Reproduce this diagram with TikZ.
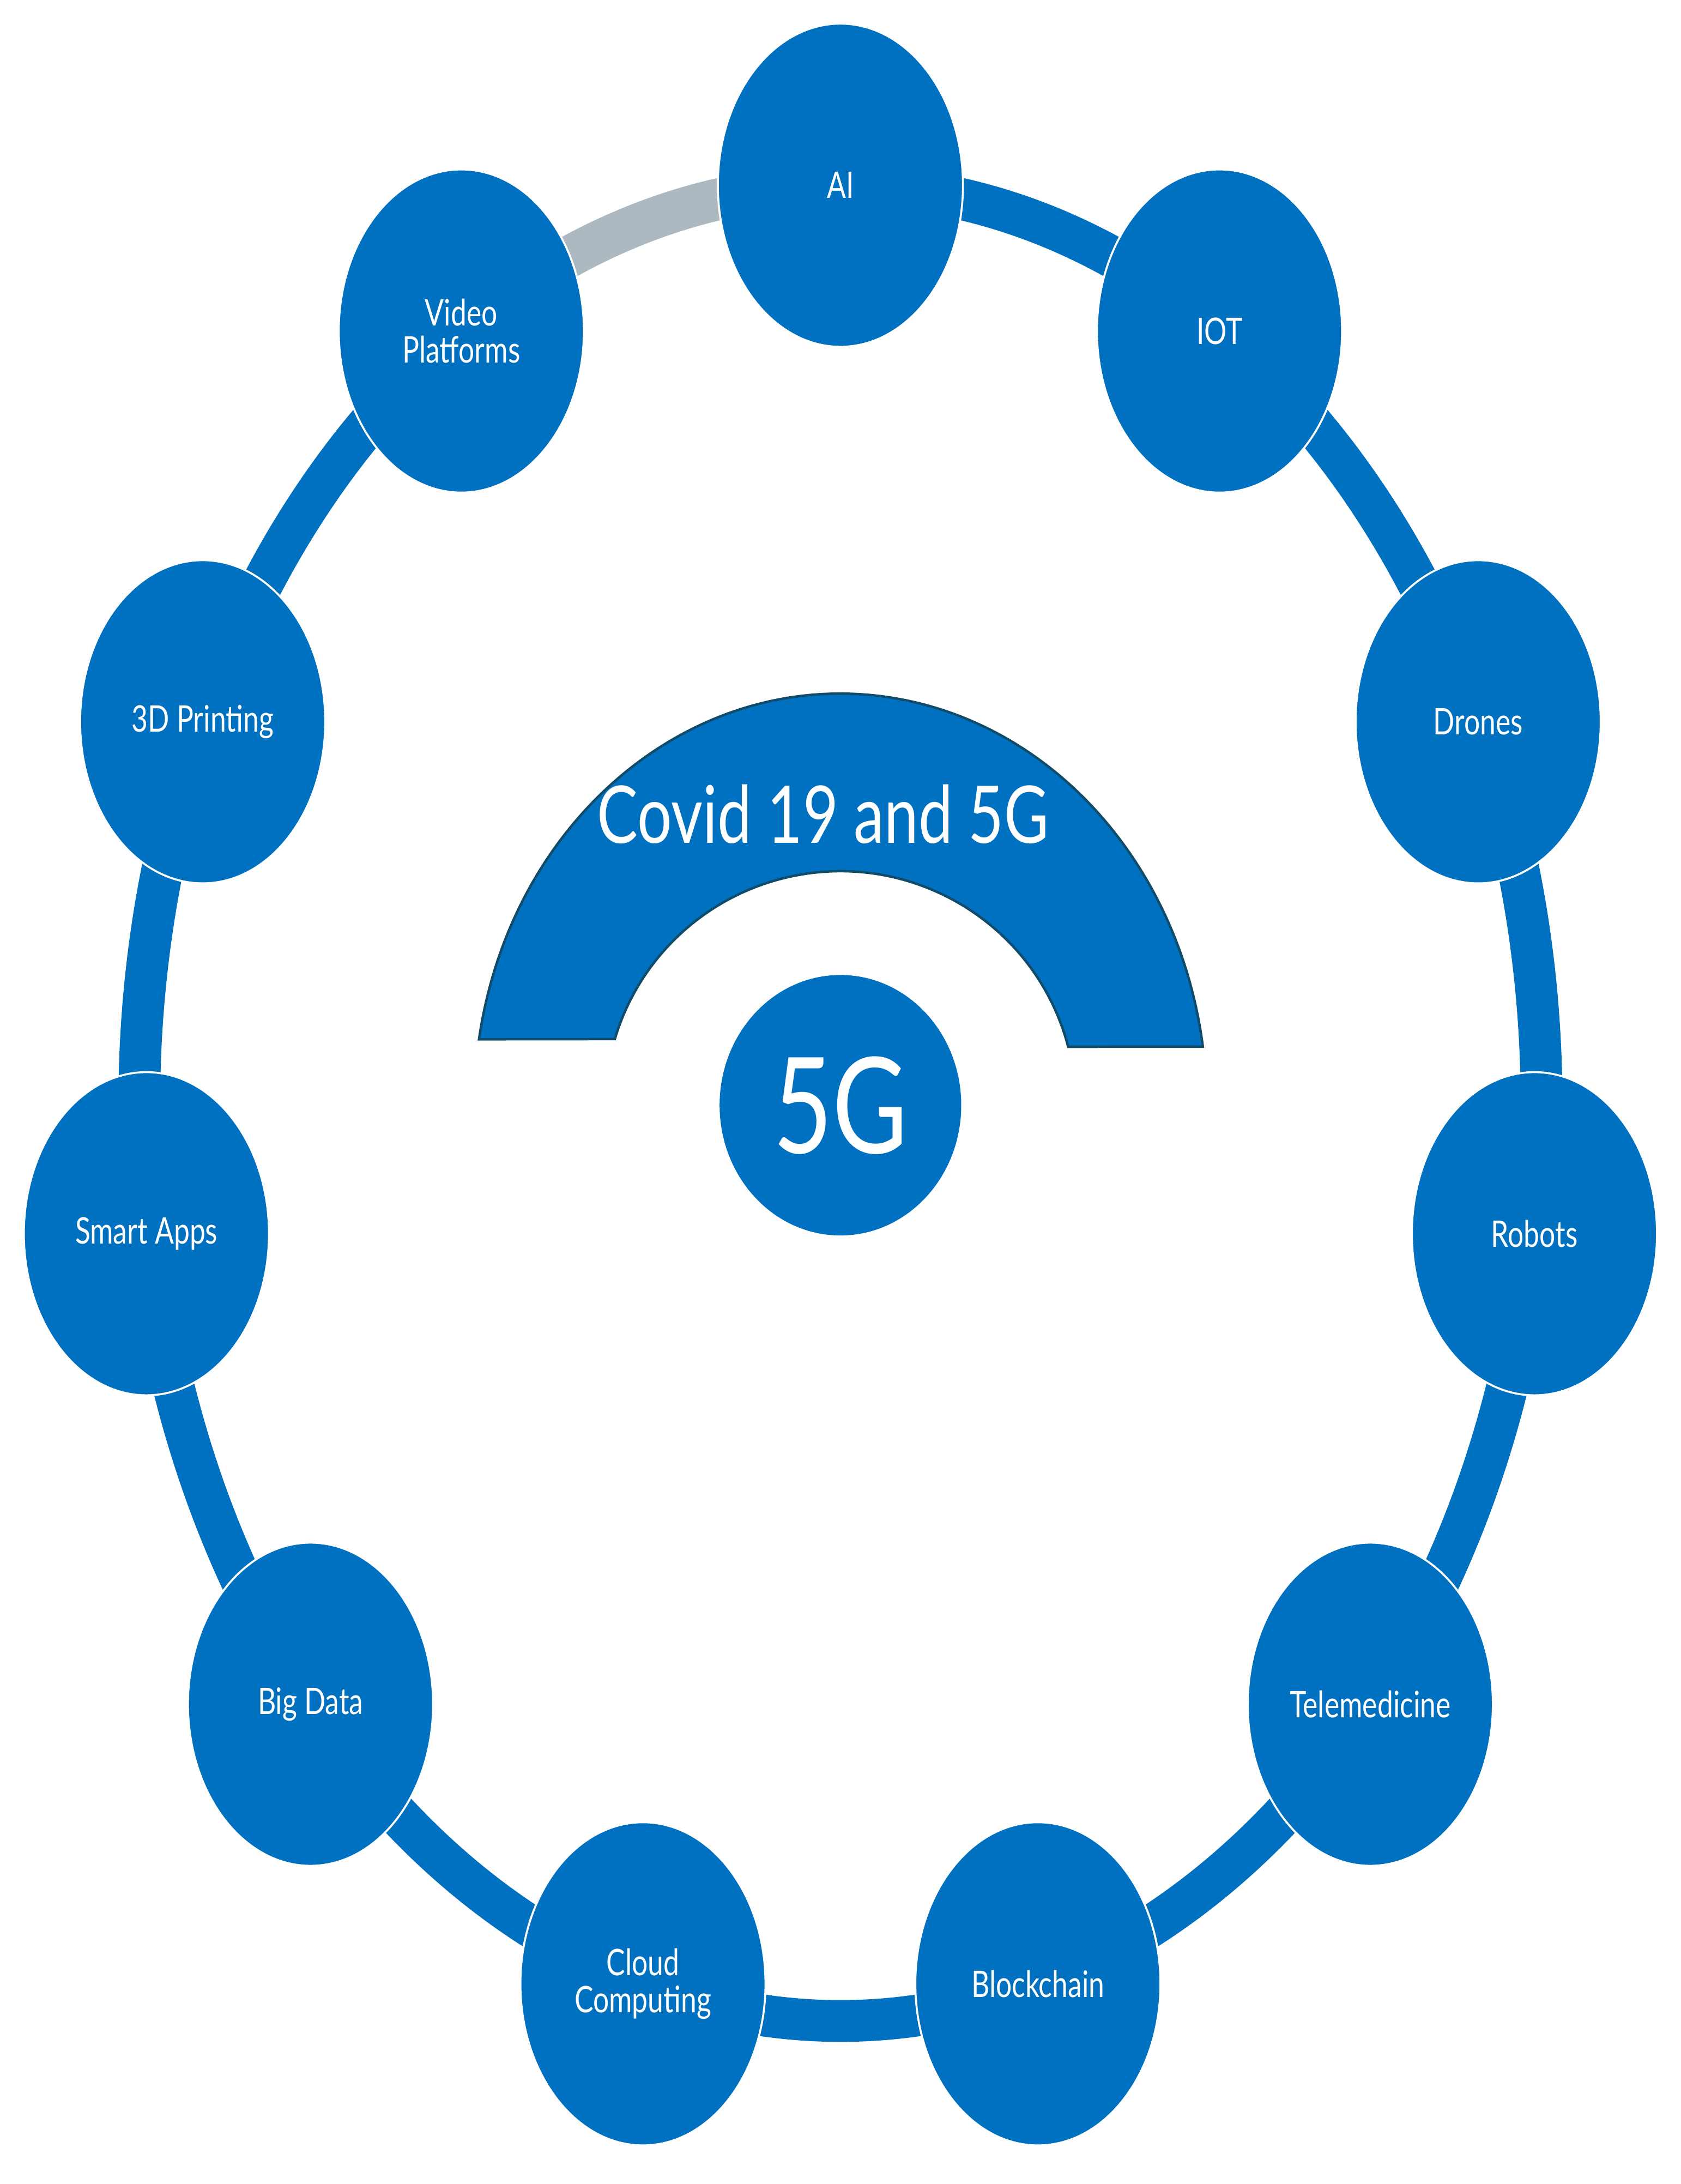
\documentclass[tikz,border=0pt]{standalone}
\usepackage{fontspec}
\setmainfont{Lato}
\usetikzlibrary{shapes.geometric,backgrounds}
\definecolor{fgblue}{RGB}{0,112,192}
\definecolor{ringgray}{RGB}{173,185,192}
\definecolor{arcedge}{RGB}{16,76,106}
\newcommand{\tallt}[1]{\scalebox{1}[1.3]{#1}}

\begin{document}
\begin{tikzpicture}[
    item/.style={draw=white, line width=0.8pt, fill=fgblue, ellipse, minimum width=3.52cm, minimum height=4.64cm,
                 inner sep=1pt, text=white, align=center, font=\fontsize{11.5}{15}\selectfont},
    link/.style={draw=fgblue, line width=0.6cm},
  ]
  \useasboundingbox (-12.07,-15.52) rectangle (12.07,15.84);

  \node[item] (ai)     at (90:10.07 and 13.18)      {\tallt{AI}};
  \node[item] (iot)    at (57.27:10.07 and 13.18)   {\tallt{IOT}};
  \node[item] (drones) at (24.55:10.07 and 13.18)   {\tallt{Drones}};
  \node[item] (robots) at (-8.18:10.07 and 13.18)   {\tallt{Robots}};
  \node[item] (tele)   at (-40.91:10.07 and 13.18)  {\tallt{Telemedicine}};
  \node[item] (block)  at (-73.64:10.07 and 13.18)  {\tallt{Blockchain}};
  \node[item] (cloud)  at (-106.36:10.07 and 13.18) {\tallt{Cloud}\\\tallt{Computing}};
  \node[item] (bigdata) at (-139.09:10.07 and 13.18) {\tallt{Big Data}};
  \node[item] (smart)  at (-171.82:10.07 and 13.18) {\tallt{Smart Apps}};
  \node[item] (print)  at (155.45:10.07 and 13.18)  {\tallt{3D Printing}};
  \node[item] (video)  at (122.73:10.07 and 13.18)  {\tallt{Video}\\\tallt{Platforms}};

  % ring behind the circles
  \begin{scope}[on background layer]
    \def\ring {ai/iot, iot/drones, drones/robots, robots/tele, tele/block, block/cloud, cloud/bigdata, bigdata/smart, smart/print, print/video}
    \foreach \u/\v [count=\i from 0] in \ring
    {   \draw[link] (\u.center) arc[start angle={90-\i*360/11}, delta angle={-360/11}, x radius=10.07, y radius=13.18];
    }
    \draw[link, draw=ringgray] (video.center) arc[start angle=122.73, end angle=90, x radius=10.07, y radius=13.18];
  \end{scope}

  % centre
  \filldraw[fill=fgblue, draw=arcedge, line width=1pt, shift={(0,-0.04)}]
    (170.7:5.26 and 5.92) arc[start angle=170.7, end angle=8.26, x radius=5.26, y radius=5.92]
    -- (14.6:3.38 and 3.37) arc[start angle=14.6, end angle=163.45, x radius=3.38, y radius=3.37] -- cycle;
  \node[text=white, anchor=base, font=\fontsize{25}{30}\selectfont] (covid) at (-0.25,3.73) {\tallt{Covid 19 and 5G}};
  \node[ellipse, fill=fgblue, minimum width=3.47cm, minimum height=3.74cm, inner sep=0pt, text=white,
        font=\fontsize{42}{50}\selectfont] (fiveg) at (0,-0.03) {\tallt{5G}};
\end{tikzpicture}
\end{document}
